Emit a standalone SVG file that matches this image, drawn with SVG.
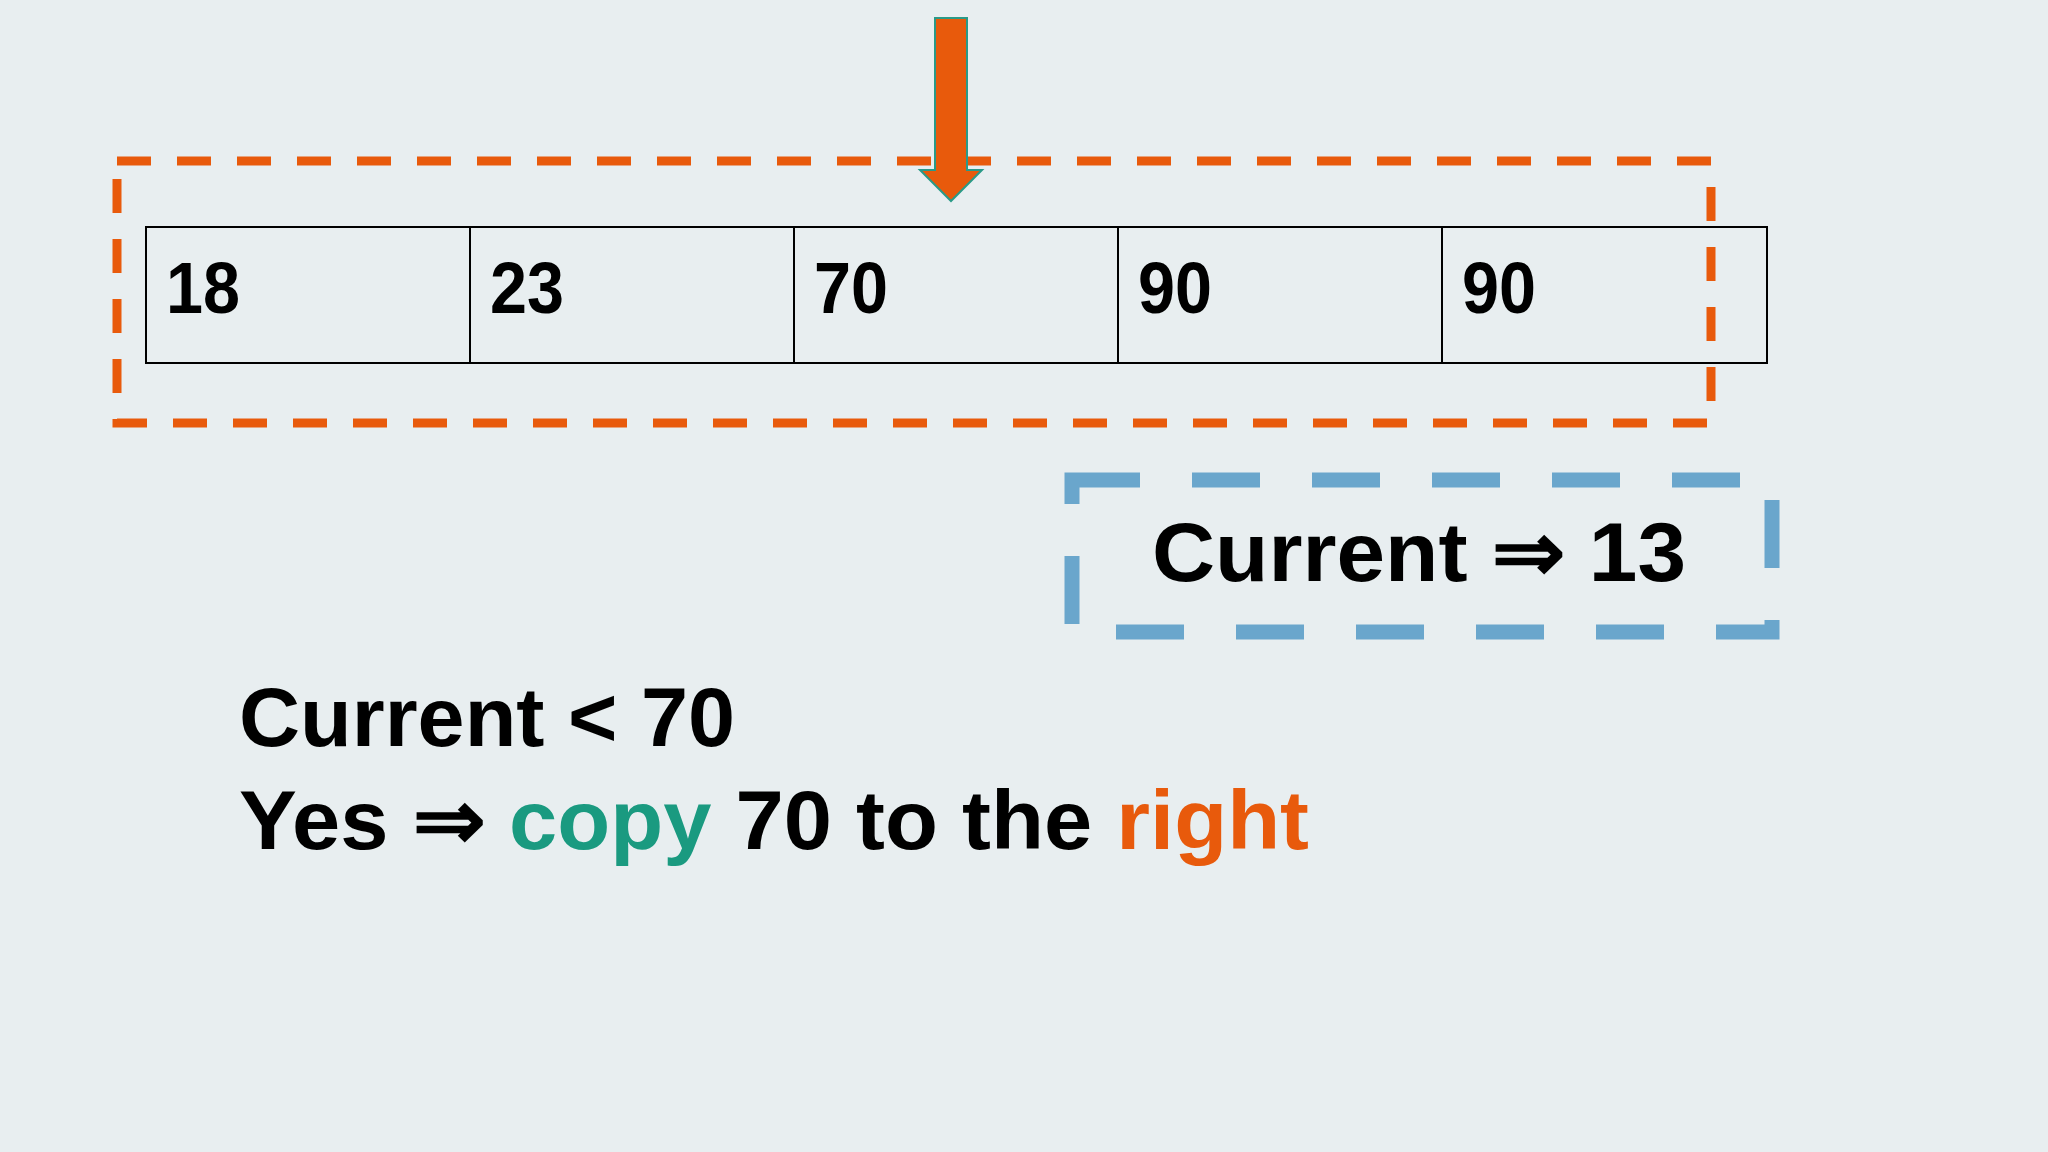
<svg xmlns="http://www.w3.org/2000/svg" width="2048" height="1152" viewBox="0 0 2048 1152">
<style>
text{font-family:"Liberation Sans",Arial,sans-serif;font-weight:bold;fill:#000}
.num{font-size:72px}
.big{font-size:84px}
.cell{fill:none;stroke:#000;stroke-width:2}
</style>
<rect width="2048" height="1152" fill="#e8eef0"/>
<g id="array">
<rect class="cell" x="146" y="227" width="324" height="136"/>
<rect class="cell" x="470" y="227" width="324" height="136"/>
<rect class="cell" x="794" y="227" width="324" height="136"/>
<rect class="cell" x="1118" y="227" width="324" height="136"/>
<rect class="cell" x="1442" y="227" width="325" height="136"/>
<text class="num" x="166" y="313" textLength="74" lengthAdjust="spacingAndGlyphs">18</text>
<text class="num" x="490" y="313" textLength="74" lengthAdjust="spacingAndGlyphs">23</text>
<text class="num" x="814" y="313" textLength="74" lengthAdjust="spacingAndGlyphs">70</text>
<text class="num" x="1138" y="313" textLength="74" lengthAdjust="spacingAndGlyphs">90</text>
<text class="num" x="1462" y="313" textLength="74" lengthAdjust="spacingAndGlyphs">90</text>
</g>
<g id="orange-box">
<rect x="117" y="161" width="1594" height="262" fill="none" stroke="#e85a0c" stroke-width="9" stroke-dasharray="34 26"/>
</g>
<g id="pointer">
<path d="M935 18 H967 V170 H982 L951 201 L920 170 H935 Z" fill="#e85a0c" stroke="#2a9a88" stroke-width="2"/>
</g>
<g id="current-box">
<rect x="1072" y="480" width="700" height="152" fill="none" stroke="#6aa6cc" stroke-width="15" stroke-dasharray="68 52"/>
<text class="big" x="1152" y="581" textLength="534" lengthAdjust="spacingAndGlyphs">Current ⇒ 13</text>
</g>
<g id="condition">
<text class="big" x="239" y="746" textLength="496" lengthAdjust="spacingAndGlyphs">Current &lt; 70</text>
<text class="big" x="239" y="849" textLength="1070" lengthAdjust="spacingAndGlyphs">Yes ⇒ <tspan fill="#1a9a80">copy</tspan> 70 to the <tspan fill="#e85a0c">right</tspan></text>
</g>
<g id="connectors"/>
</svg>
